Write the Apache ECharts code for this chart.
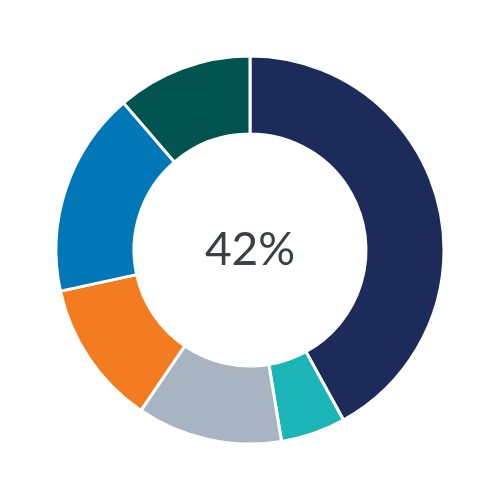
<!DOCTYPE html>
<html>
<head>
<meta charset="utf-8">
<script src="https://cdn.jsdelivr.net/npm/echarts@6/dist/echarts.min.js"></script>
<style>html,body{margin:0;padding:0;background:#fff;}#c{width:500px;height:500px;}</style>
</head>
<body>
<div id="c"></div>
<script>
const categories = ['A', 'B', 'C', 'D', 'E', 'F'];
const values = [42, 5.4, 12.1, 12.1, 17.1, 11.3];
const colors = ['#1c2b5a', '#1bb5b7', '#a9b4c2', '#f47c20', '#0077b6', '#00534f'];
const centerLabel = '42%';

const chart = echarts.init(document.getElementById('c'));
chart.setOption({
  animation: false,
  graphic: [{
    type: 'text',
    left: 'center',
    top: 'middle',
    style: { text: centerLabel, font: '46px Lato', fill: '#3b4045', textAlign: 'center', textVerticalAlign: 'middle' }
  }],
  series: [{
    type: 'pie',
    center: [250, 250],
    radius: [116, 194],
    startAngle: 90,
    clockwise: true,
    label: { show: false },
    labelLine: { show: false },
    itemStyle: { borderColor: '#fff', borderWidth: 3 },
    emphasis: { disabled: true },
    data: categories.map((c, i) => ({ name: c, value: values[i], itemStyle: { color: colors[i] } }))
  }]
});
</script>
</body>
</html>
